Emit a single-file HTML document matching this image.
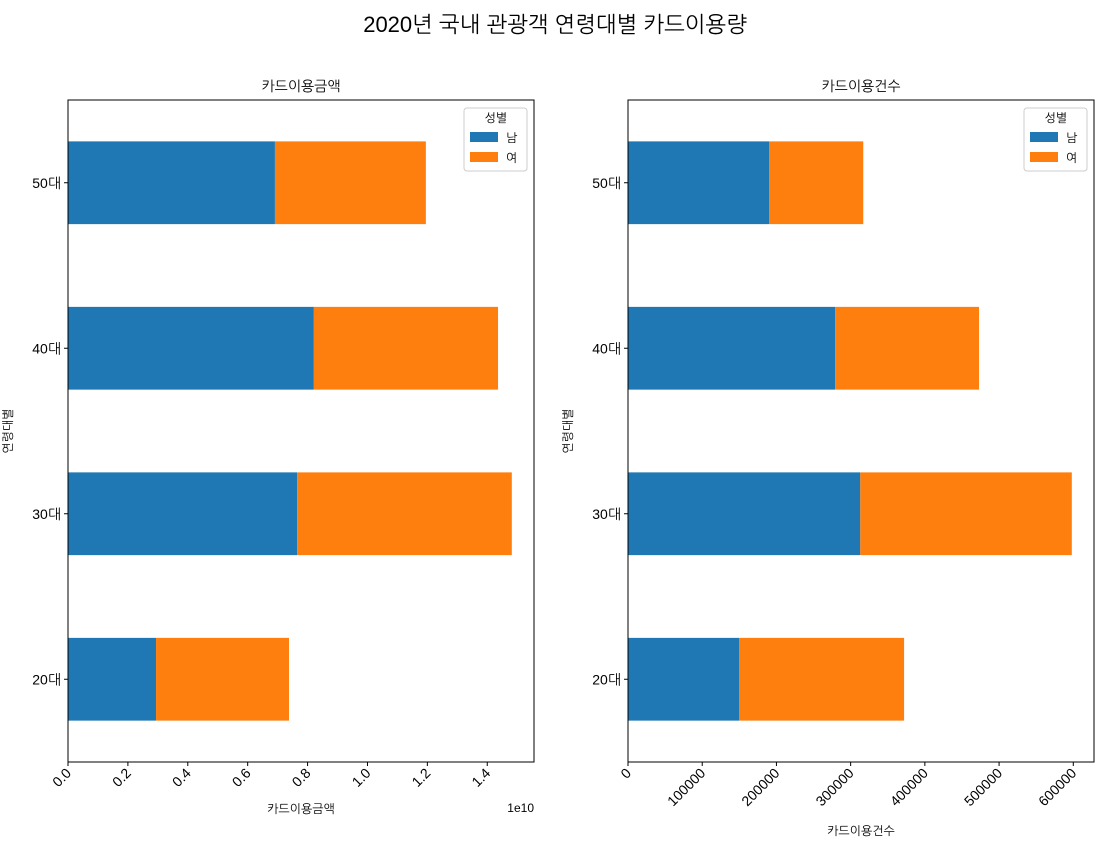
<!DOCTYPE html>
<html><head><meta charset="utf-8"><style>
body{margin:0;background:#fff;font-family:"Liberation Sans","NanumGothic","Noto Sans CJK KR",sans-serif;}
svg text{font-family:"Liberation Sans","NanumGothic","Noto Sans CJK KR",sans-serif;}
</style></head><body>
<svg id="c" width="1111" height="842" xmlns="http://www.w3.org/2000/svg">
<text x="555" y="32" font-size="22" text-anchor="middle">2020년 국내 관광객 연령대별 카드이용량</text>
</svg>
<script>
const categories=["20대","30대","40대","50대"];
const amountMale=[0.294e10,0.765e10,0.821e10,0.691e10];
const amountFemale=[0.444e10,0.717e10,0.615e10,0.504e10];
const countMale=[150000,313000,279000,190000];
const countFemale=[222000,285000,194000,127000];
const amountTicks=[0,0.2e10,0.4e10,0.6e10,0.8e10,1.0e10,1.2e10,1.4e10];
const amountTickLabels=["0.0","0.2","0.4","0.6","0.8","1.0","1.2","1.4"];
const countTicks=[0,100000,200000,300000,400000,500000,600000];
const countTickLabels=["0","100000","200000","300000","400000","500000","600000"];
const svg=document.getElementById('c');
const NS="http://www.w3.org/2000/svg";
function mk(t,a){const e=document.createElementNS(NS,t);for(const k in a)e.setAttribute(k,a[k]);svg.appendChild(e);return e;}
function panel(x0,x1,title,xlabel,male,female,ticks,labels,offset,pfx){
 const y0=100,y1=762;
 const tot=male.map((m,i)=>m+female[i]);
 const xmax=Math.max(...tot)*1.05;
 const X=v=>x0+(v/xmax)*(x1-x0);
 const Y=i=>y1-(i+0.5)/categories.length*(y1-y0);
 const bh=0.5/categories.length*(y1-y0);
 categories.forEach((c,i)=>{
  let r=mk('rect',{x:X(0),y:Y(i)-bh/2,width:X(male[i])-X(0),height:bh,fill:'#1f77b4'});
  
  
  r=mk('rect',{x:X(male[i]),y:Y(i)-bh/2,width:X(tot[i])-X(male[i]),height:bh,fill:'#ff7f0e'});
  
  
  mk('line',{x1:x0-4,x2:x0,y1:Y(i),y2:Y(i),stroke:'#000'});
  const t=mk('text',{x:x0-7,y:Y(i)+5,'font-size':14,'text-anchor':'end'});t.textContent=c;
  
  
 });
 const fr=mk('rect',{x:x0,y:y0,width:x1-x0,height:y1-y0,fill:'none',stroke:'#000','stroke-width':1});
 
 
 ticks.forEach((v,i)=>{
  const x=X(v);
  mk('line',{x1:x,x2:x,y1:y1,y2:y1+4,stroke:'#000'});
  const t=mk('text',{x:x+4,y:y1+12,'font-size':14,'text-anchor':'end',transform:`rotate(-45 ${x+4} ${y1+12})`});
  t.textContent=labels[i];
  
  
 });
 let t=mk('text',{x:(x0+x1)/2,y:y0-9,'font-size':14,'text-anchor':'middle'});t.textContent=title;
 
 t=mk('text',{x:(x0+x1)/2,y:y1+offset,'font-size':12,'text-anchor':'middle'});t.textContent=xlabel;
 
 t=mk('text',{x:x0-56,y:(y0+y1)/2,'font-size':12,'text-anchor':'middle',transform:`rotate(-90 ${x0-56} ${(y0+y1)/2})`});
 t.textContent='연령대별';
 
 const lx=x1-70,ly=y0+8;
 const lg=mk('rect',{x:lx,y:ly,width:63,height:63,fill:'#fff',stroke:'#ccc',rx:3});
 
 t=mk('text',{x:lx+32,y:ly+14,'font-size':12,'text-anchor':'middle'});t.textContent='성별';
 
 [['남','#1f77b4'],['여','#ff7f0e']].forEach((d,k)=>{
  const r=mk('rect',{x:lx+6,y:ly+24+k*20,width:28,height:10,fill:d[1]});
  
  const s=mk('text',{x:lx+42,y:ly+34+k*20,'font-size':12});s.textContent=d[0];
  
 });
}
panel(68,534,'카드이용금액','카드이용금액',amountMale,amountFemale,amountTicks,amountTickLabels,51,'amount');
const e=mk('text',{x:534,y:812,'font-size':12,'text-anchor':'end'});e.textContent='1e10';


panel(628,1094,'카드이용건수','카드이용건수',countMale,countFemale,countTicks,countTickLabels,73,'count');
</script>
</body></html>
